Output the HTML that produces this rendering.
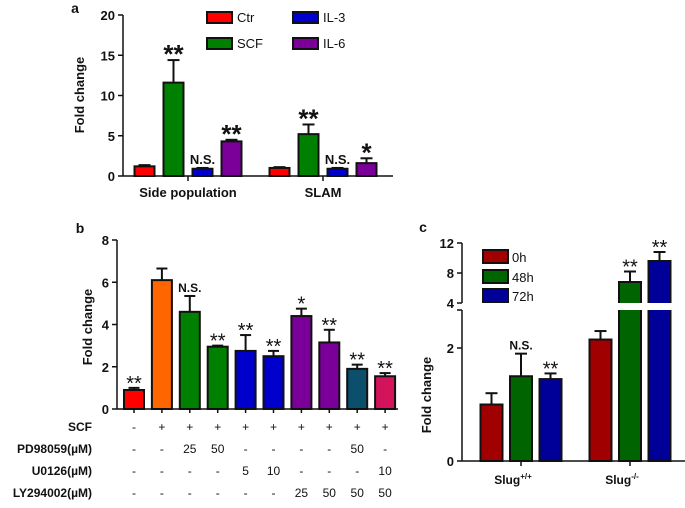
<!DOCTYPE html>
<html><head><meta charset="utf-8"><style>
html,body{margin:0;padding:0;background:#fff}
svg{display:block;font-family:"Liberation Sans",Arial,sans-serif}
</style></head><body>
<svg id="fig" width="685" height="508" viewBox="0 0 685 508" xmlns="http://www.w3.org/2000/svg"></svg>
<script>
// Panel a data
const aGroups = ["Side population", "SLAM"];
const aSeries = ["Ctr", "SCF", "IL-3", "IL-6"];
const aColors = ["#ff0000", "#008000", "#0000cc", "#7b0099"];
const aValues = [[1.2, 11.6, 0.9, 4.3], [1.0, 5.2, 0.9, 1.6]];
const aErrors = [[0.15, 2.8, 0.1, 0.2], [0.1, 1.2, 0.1, 0.6]];
const aSig = [["", "**", "N.S.", "**"], ["", "**", "N.S.", "*"]];
const aTicks = [0, 5, 10, 15, 20];
// Panel b data
const bValues = [0.9, 6.1, 4.6, 2.95, 2.75, 2.5, 4.4, 3.15, 1.9, 1.55];
const bErrors = [0.1, 0.55, 0.75, 0.05, 0.75, 0.25, 0.35, 0.6, 0.2, 0.15];
const bColors = ["#ff0000", "#ff6600", "#008000", "#008000", "#0000cc", "#0000cc", "#7b0099", "#7b0099", "#0b4f6c", "#d4145a"];
const bSig = ["**", "", "N.S.", "**", "**", "**", "*", "**", "**", "**"];
const bTicks = [0, 2, 4, 6, 8];
const bRowLabels = ["SCF", "PD98059(\u00b5M)", "U0126(\u00b5M)", "LY294002(\u00b5M)"];
const bRows = [
 ["-","+","+","+","+","+","+","+","+","+"],
 ["-","-","25","50","-","-","-","-","50","-"],
 ["-","-","-","-","5","10","-","-","-","10"],
 ["-","-","-","-","-","-","25","50","50","50"]];
// Panel c data
const cGroups = ["Slug", "Slug"];
const cSup = ["+/+", "-/-"];
const cSeries = ["0h", "48h", "72h"];
const cColors = ["#a00000", "#006400", "#000099"];
const cValues = [[1.0, 1.5, 1.45], [2.15, 6.8, 9.6]];
const cErrors = [[0.2, 0.4, 0.1], [0.15, 1.4, 1.2]];
const cSig = [["", "N.S.", "**"], ["", "**", "**"]];
const cLowTicks = [0, 2];
const cHighTicks = [4, 8, 12];

const svg = document.getElementById('fig');
const NS = "http://www.w3.org/2000/svg";
function mk(tag, attrs, parent) {
  const e = document.createElementNS(NS, tag);
  for (const k in attrs) e.setAttribute(k, attrs[k]);
  (parent || svg).appendChild(e);
  return e;
}
function txt(s, x, y, size, anchor, weight, parent) {
  const t = mk('text', {x: x, y: y, 'font-size': size, 'text-anchor': anchor || 'middle', 'font-weight': weight || 'bold', fill: '#111'}, parent);
  t.textContent = s;
  return t;
}
function errBar(g, cx, yTop, yErr, w) {
  mk('line', {x1: cx, x2: cx, y1: yTop, y2: yErr, stroke: '#111', 'stroke-width': 2}, g);
  mk('line', {x1: cx - w/2, x2: cx + w/2, y1: yErr, y2: yErr, stroke: '#111', 'stroke-width': 2}, g);
}

// ---------- Panel a ----------
(function(){
  const g = mk('g', {});
  
  
  const x0 = 123, y0 = 176, yTop = 15, xEnd = 393;
  const ya = v => y0 - (v / 20) * (y0 - yTop);
  const t = txt('a', 75, 13, 14, 'middle', 'bold', g);
   
  const bars = mk('g', {}, g);
   
  const centers = [188, 323];
  aGroups.forEach((grp, gi) => {
    aSeries.forEach((s, si) => {
      const cx = centers[gi] + (si - 1.5) * 29;
      const v = aValues[gi][si], e = aErrors[gi][si];
      errBar(bars, cx, ya(v), ya(v + e), 12);
      const r = mk('rect', {x: cx - 10, y: ya(v), width: 20, height: y0 - ya(v), fill: aColors[si], stroke: '#111', 'stroke-width': 2}, bars);
      
      
      if (aSig[gi][si]) {
        const big = aSig[gi][si] !== 'N.S.';
        txt(aSig[gi][si], cx, ya(v + e) - 4 + (big ? 7 : 0), big ? 26 : 13, 'middle', 'bold', bars);
      }
    });
    mk('line', {x1: centers[gi], x2: centers[gi], y1: y0, y2: y0 + 5, stroke: '#111', 'stroke-width': 1.5}, g);
    const l = txt(grp, centers[gi], 197, 13, 'middle', 'bold', g);
    
    
  });
  mk('line', {x1: x0, x2: x0, y1: yTop, y2: y0, stroke: '#111', 'stroke-width': 1.5}, g);
  mk('line', {x1: x0, x2: xEnd, y1: y0, y2: y0, stroke: '#111', 'stroke-width': 1.5}, g);
  aTicks.forEach(v => {
    mk('line', {x1: x0 - 5, x2: x0, y1: ya(v), y2: ya(v), stroke: '#111', 'stroke-width': 1.5}, g);
    txt(String(v), x0 - 8, ya(v) + 5, 13, 'end', 'bold', g);
  });
  const yt = txt('Fold change', 0, 0, 13, 'middle', 'bold', g);
  yt.setAttribute('transform', 'translate(84,95) rotate(-90)');
   
  const leg = mk('g', {}, g);
   
  const lp = [[207, 12], [207, 38], [293, 12], [293, 38]];
  [0, 1, 2, 3].forEach(i => {
    const p = lp[i];
    const e = mk('rect', {x: p[0], y: p[1], width: 25, height: 11, fill: aColors[i], stroke: '#111', 'stroke-width': 2}, leg);
    
    
    txt(aSeries[i], p[0] + 30, p[1] + 10, 13, 'start', 'normal', leg);
  });
})();

// ---------- Panel b ----------
(function(){
  const g = mk('g', {});
  
  
  const x0 = 117, y0 = 409, yTop = 240, xEnd = 398;
  const yb = v => y0 - (v / 8) * (y0 - yTop);
  const t = txt('b', 80, 233, 14, 'middle', 'bold', g);
   
  const bars = mk('g', {}, g);
   
  const cxs = bValues.map((_, i) => 134 + i * 27.9);
  bValues.forEach((v, i) => {
    const cx = cxs[i], e = bErrors[i];
    errBar(bars, cx, yb(v), yb(v + e), 11);
    const r = mk('rect', {x: cx - 10, y: yb(v), width: 20, height: y0 - yb(v), fill: bColors[i], stroke: '#111', 'stroke-width': 2}, bars);
    
    
    if (bSig[i]) {
      const big = bSig[i] !== 'N.S.';
      txt(bSig[i], cx, yb(v + e) - 4 + (big ? 6 : 0), big ? 20 : 12, 'middle', big ? 'normal' : 'bold', bars);
    }
    mk('line', {x1: cx, x2: cx, y1: y0, y2: y0 + 4, stroke: '#111', 'stroke-width': 1.5}, g);
  });
  mk('line', {x1: x0, x2: x0, y1: yTop, y2: y0, stroke: '#111', 'stroke-width': 1.5}, g);
  mk('line', {x1: x0, x2: xEnd, y1: y0, y2: y0, stroke: '#111', 'stroke-width': 1.5}, g);
  bTicks.forEach(v => {
    mk('line', {x1: x0 - 5, x2: x0, y1: yb(v), y2: yb(v), stroke: '#111', 'stroke-width': 1.5}, g);
    txt(String(v), x0 - 8, yb(v) + 5, 13, 'end', 'bold', g);
  });
  const yt = txt('Fold change', 0, 0, 13, 'middle', 'bold', g);
  yt.setAttribute('transform', 'translate(92,327) rotate(-90)');
   
  const tbl = mk('g', {}, g);
   
  const rowY = [431, 453, 475, 497];
  bRowLabels.forEach((lab, r) => {
    txt(lab, 92, rowY[r], 12, 'end', 'bold', tbl);
    bRows[r].forEach((c, i) => txt(c, cxs[i], rowY[r], 12, 'middle', 'normal', tbl));
  });
})();

// ---------- Panel c ----------
(function(){
  const g = mk('g', {});
  
  
  const x0 = 462, y0 = 461, xEnd = 685;
  const lowTopV = 2.7, lowTopY = 310;
  const yl = v => y0 - v * 56.5;
  const hiBase = 303;
  const yh = v => hiBase - (v - 4) * 7.5;
  const t = txt('c', 423, 232, 14, 'middle', 'bold', g);
   
  const bars = mk('g', {}, g);
   
  const centers = [521, 630];
  cGroups.forEach((grp, gi) => {
    cSeries.forEach((s, si) => {
      const cx = centers[gi] + (si - 1) * 29.5;
      const v = cValues[gi][si], e = cErrors[gi][si];
      let yErr;
      if (v <= lowTopV) {
        yErr = yl(v + e);
        errBar(bars, cx, yl(v), yErr, 12);
        const r = mk('rect', {x: cx - 11, y: yl(v), width: 22, height: y0 - yl(v), fill: cColors[si], stroke: '#111', 'stroke-width': 2}, bars);
        
        
      } else {
        yErr = yh(v + e);
        const r = mk('rect', {x: cx - 11, y: lowTopY, width: 22, height: y0 - lowTopY, fill: cColors[si], stroke: 'none'}, bars);
        
        
        mk('polyline', {points: `${cx-11},${lowTopY} ${cx-11},${y0} ${cx+11},${y0} ${cx+11},${lowTopY}`, fill: 'none', stroke: '#111', 'stroke-width': 2}, bars);
        errBar(bars, cx, yh(v), yErr, 12);
        const r2 = mk('rect', {x: cx - 11, y: yh(v), width: 22, height: hiBase - yh(v), fill: cColors[si], stroke: 'none'}, bars);
        
        
        mk('polyline', {points: `${cx-11},${hiBase} ${cx-11},${yh(v)} ${cx+11},${yh(v)} ${cx+11},${hiBase}`, fill: 'none', stroke: '#111', 'stroke-width': 2}, bars);
      }
      if (cSig[gi][si]) {
        const big = cSig[gi][si] !== 'N.S.';
        txt(cSig[gi][si], cx, yErr - 4 + (big ? 6 : 0), big ? 20 : 12, 'middle', big ? 'normal' : 'bold', bars);
      }
    });
    mk('line', {x1: centers[gi], x2: centers[gi], y1: y0, y2: y0 + 5, stroke: '#111', 'stroke-width': 1.5}, g);
    const l = txt(grp, centers[gi] - 8, 484, 12, 'middle', 'bold', g);
    const sp = mk('tspan', {dy: -5, 'font-size': 8}, l);
    sp.textContent = cSup[gi];
    
    
  });
  mk('line', {x1: x0, x2: x0, y1: lowTopY, y2: y0, stroke: '#111', 'stroke-width': 1.5}, g);
  mk('line', {x1: x0, x2: x0, y1: yh(12), y2: hiBase, stroke: '#111', 'stroke-width': 1.5}, g);
  mk('line', {x1: x0 - 5, x2: x0, y1: lowTopY, y2: lowTopY, stroke: '#111', 'stroke-width': 1.5}, g);
  mk('line', {x1: x0, x2: xEnd, y1: y0, y2: y0, stroke: '#111', 'stroke-width': 1.5}, g);
  cLowTicks.forEach(v => {
    mk('line', {x1: x0 - 5, x2: x0, y1: yl(v), y2: yl(v), stroke: '#111', 'stroke-width': 1.5}, g);
    txt(String(v), x0 - 8, yl(v) + 5, 13, 'end', 'bold', g);
  });
  cHighTicks.forEach(v => {
    mk('line', {x1: x0 - 5, x2: x0, y1: yh(v), y2: yh(v), stroke: '#111', 'stroke-width': 1.5}, g);
    txt(String(v), x0 - 8, yh(v) + 5, 13, 'end', 'bold', g);
  });
  const yt = txt('Fold change', 0, 0, 13, 'middle', 'bold', g);
  yt.setAttribute('transform', 'translate(431,395) rotate(-90)');
   
  const leg = mk('g', {}, g);
   
  const ly = [250, 270, 289];
  cSeries.forEach((s, i) => {
    const e = mk('rect', {x: 483, y: ly[i], width: 25, height: 13, fill: cColors[i], stroke: '#111', 'stroke-width': 2}, leg);
    
    
    txt(s, 512, ly[i] + 12, 13, 'start', 'normal', leg);
  });
})();
</script>
</body></html>
